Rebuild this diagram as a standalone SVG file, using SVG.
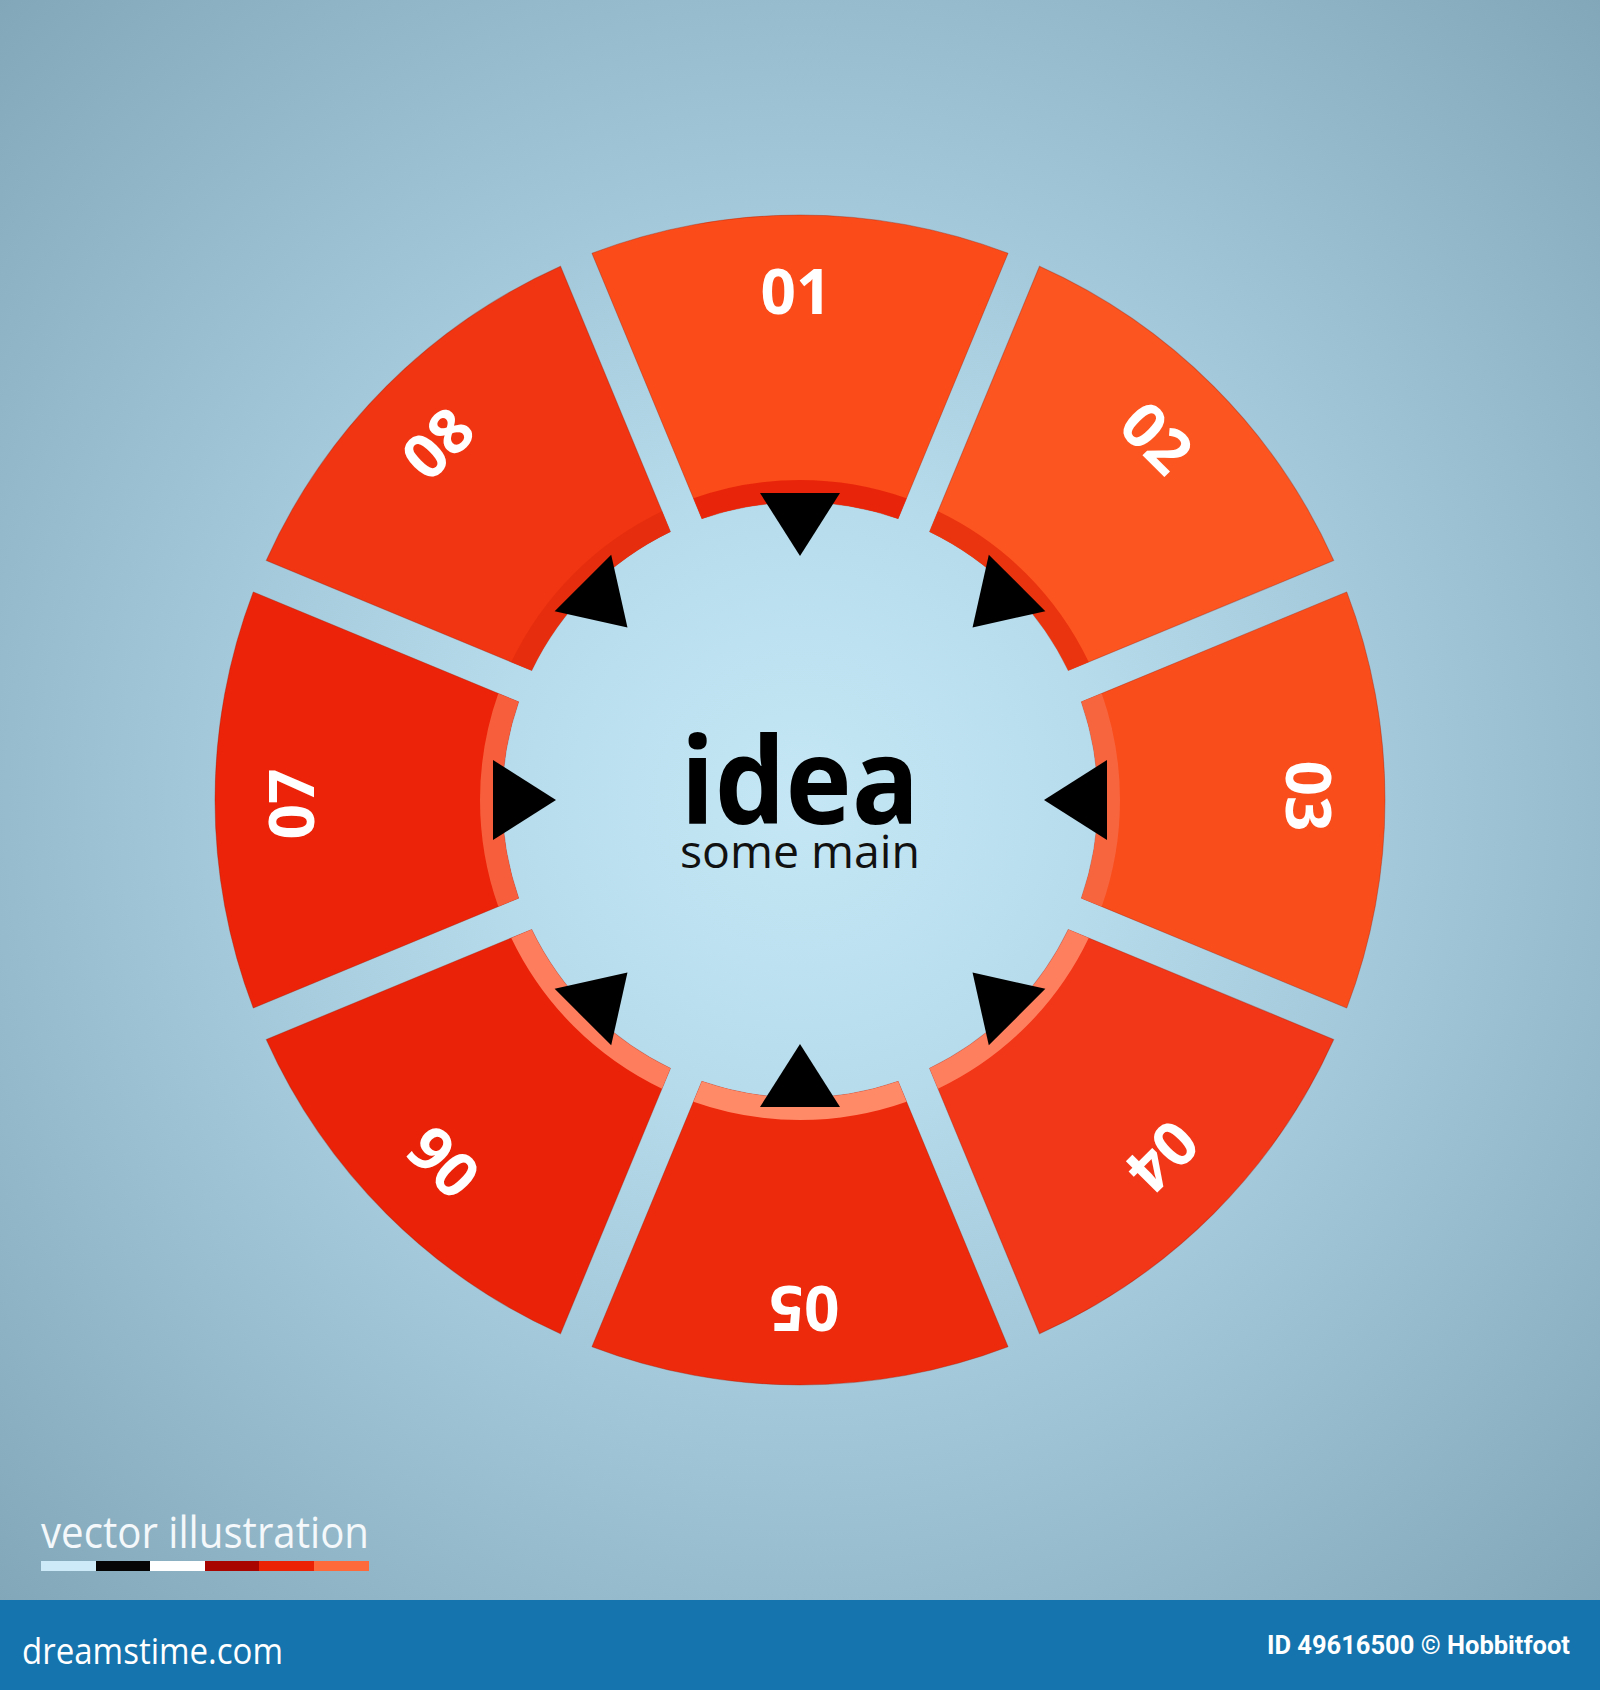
<svg xmlns="http://www.w3.org/2000/svg" width="1600" height="1690" viewBox="0 0 1600 1690">
<style>
.seg{stroke:#9a1800;stroke-opacity:.35;stroke-width:1}
.num{font-family:"Open Sans","Liberation Sans",sans-serif;font-weight:700;font-size:62px;fill:#fff;text-anchor:middle}
.arr{fill:#000}
.title{font-family:"Open Sans","Liberation Sans",sans-serif;font-weight:700;fill:#000;text-anchor:middle}
.sub{font-family:"Open Sans","Liberation Sans",sans-serif;font-weight:400;fill:#111;text-anchor:middle}
</style>
<defs>
<radialGradient id="bg" gradientUnits="userSpaceOnUse" cx="800" cy="800" r="1150">
<stop offset="0" stop-color="#c5e7f5"/>
<stop offset="0.27" stop-color="#b6dcec"/>
<stop offset="0.52" stop-color="#a3c8d9"/>
<stop offset="1" stop-color="#80a6b8"/>
</radialGradient>
<path id="segShape" d="M591.93 253.25 A585 585 0 0 1 1008.07 253.25 L898.14 518.63 A298 298 0 0 0 701.86 518.63 Z"/>
<path id="bandShape" d="M693.42 498.27 A320 320 0 0 1 906.58 498.27 L898.14 518.63 A298 298 0 0 0 701.86 518.63 Z"/>
</defs>
<rect x="0" y="0" width="1600" height="1690" fill="url(#bg)"/>

<g id="seg01" transform="rotate(0 800 800)"><use href="#segShape" class="seg" fill="#fb4b19"/><use href="#bandShape" fill="#e8250a"/><text class="num" x="796" y="314">01</text></g>
<g id="seg02" transform="rotate(45 800 800)"><use href="#segShape" class="seg" fill="#fd5520"/><use href="#bandShape" fill="#ea3410"/><text class="num" x="796" y="314">02</text></g>
<g id="seg03" transform="rotate(90 800 800)"><use href="#segShape" class="seg" fill="#f94d1c"/><use href="#bandShape" fill="#f7653f"/><text class="num" x="796" y="314">03</text></g>
<g id="seg04" transform="rotate(135 800 800)"><use href="#segShape" class="seg" fill="#f23618"/><use href="#bandShape" fill="#fd7f5e"/><text class="num" x="796" y="314">04</text></g>
<g id="seg05" transform="rotate(180 800 800)"><use href="#segShape" class="seg" fill="#ee2a0c"/><use href="#bandShape" fill="#ff8a68"/><text class="num" x="796" y="314">05</text></g>
<g id="seg06" transform="rotate(225 800 800)"><use href="#segShape" class="seg" fill="#ea2208"/><use href="#bandShape" fill="#fd7d5c"/><text class="num" x="796" y="314">06</text></g>
<g id="seg07" transform="rotate(270 800 800)"><use href="#segShape" class="seg" fill="#ec2308"/><use href="#bandShape" fill="#f65e3c"/><text class="num" x="796" y="314">07</text></g>
<g id="seg08" transform="rotate(315 800 800)"><use href="#segShape" class="seg" fill="#f13512"/><use href="#bandShape" fill="#e62e0e"/><text class="num" x="796" y="314">08</text></g>

<g id="connectors">
<polygon class="arr" points="760,493 840,493 800,556" transform="rotate(0 800 800)"/>
<polygon class="arr" points="760,493 840,493 800,556" transform="rotate(45 800 800)"/>
<polygon class="arr" points="760,493 840,493 800,556" transform="rotate(90 800 800)"/>
<polygon class="arr" points="760,493 840,493 800,556" transform="rotate(135 800 800)"/>
<polygon class="arr" points="760,493 840,493 800,556" transform="rotate(180 800 800)"/>
<polygon class="arr" points="760,493 840,493 800,556" transform="rotate(225 800 800)"/>
<polygon class="arr" points="760,493 840,493 800,556" transform="rotate(270 800 800)"/>
<polygon class="arr" points="760,493 840,493 800,556" transform="rotate(315 800 800)"/>
</g>

<g id="center">
<text class="title" x="800" y="824" font-size="120" textLength="239" lengthAdjust="spacingAndGlyphs">idea</text>
<text class="sub" x="800" y="868" font-size="45" textLength="240" lengthAdjust="spacingAndGlyphs">some main</text>
</g>

<g id="legend">
<text x="41" y="1548" font-family="Open Sans, Liberation Sans, sans-serif" font-size="43" fill="#f4f8fa" textLength="328" lengthAdjust="spacingAndGlyphs">vector illustration</text>
<rect x="41" y="1561" width="55" height="10" fill="#cdeaf8"/>
<rect x="96" y="1561" width="54" height="10" fill="#050505"/>
<rect x="150" y="1561" width="55" height="10" fill="#ffffff"/>
<rect x="205" y="1561" width="54" height="10" fill="#a80400"/>
<rect x="259" y="1561" width="55" height="10" fill="#ec2204"/>
<rect x="314" y="1561" width="55" height="10" fill="#ff6a3a"/>
</g>

<g id="footer">
<rect x="0" y="1600" width="1600" height="90" fill="#1574ad"/>
<text x="22" y="1664" font-family="Open Sans, Liberation Sans, sans-serif" font-size="36" fill="#ffffff" textLength="261" lengthAdjust="spacingAndGlyphs">dreamstime.com</text>
<text x="1570" y="1654" font-family="Roboto, Liberation Sans, sans-serif" font-weight="700" font-size="26" fill="#ffffff" text-anchor="end" textLength="303" lengthAdjust="spacingAndGlyphs">ID 49616500 © Hobbitfoot</text>
</g>
</svg>
